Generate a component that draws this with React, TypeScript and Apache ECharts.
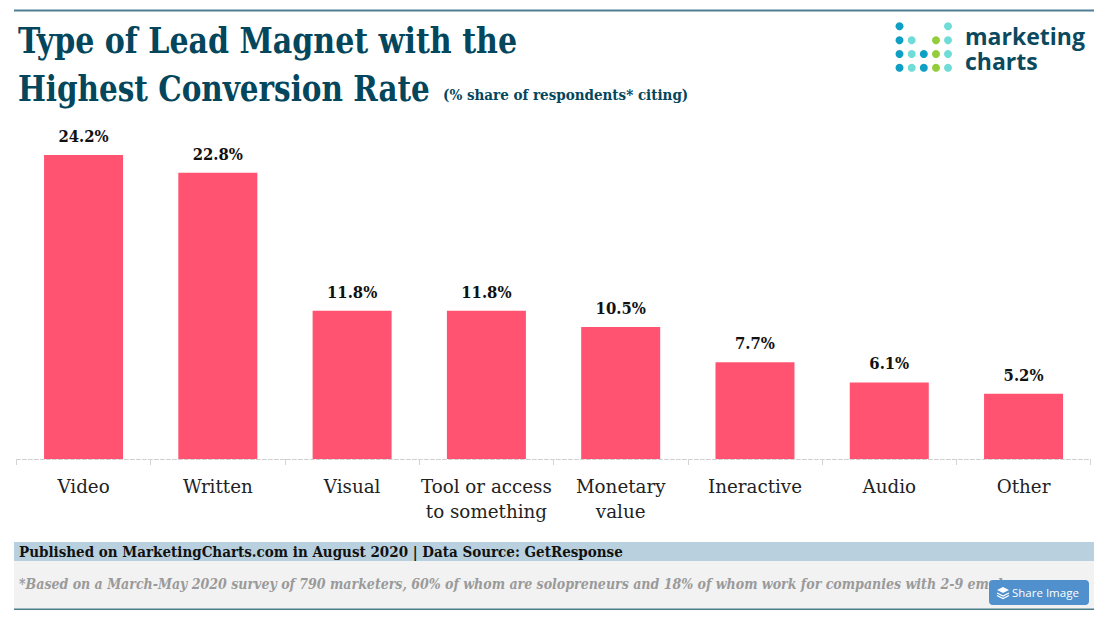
import React, { useEffect, useRef } from "react";
import * as echarts from "echarts";

const categories = ["Video", "Written", "Visual", "Tool or access\nto something", "Monetary\nvalue", "Ineractive", "Audio", "Other"];
const values = [24.2, 22.8, 11.8, 11.8, 10.5, 7.7, 6.1, 5.2];
const titleLines = ["Type of Lead Magnet with the", "Highest Conversion Rate"];
const subtitle = "(% share of respondents* citing)";
const sourceText = "Published on MarketingCharts.com in August 2020 | Data Source: GetResponse";
const noteText = "*Based on a March-May 2020 survey of 790 marketers, 60% of whom are solopreneurs and 18% of whom work for companies with 2-9 employees";

const SERIF = '"DejaVu Serif", serif';
const COND = '"DejaVu Serif Condensed", "DejaVu Serif", serif';
const NAVY = "#04465c";

const dotCols = [899.5, 911.7, 923.8, 936, 948];
const dotRows = [26.3, 40.3, 54, 67.7];
const dotMap: [number, number, string][] = [
  [0, 0, "#0e9fc4"], [0, 1, "#0e9fc4"], [0, 2, "#0e9fc4"], [0, 3, "#0e9fc4"],
  [1, 1, "#6fdcd8"], [1, 2, "#6fdcd8"], [1, 3, "#6fdcd8"],
  [2, 2, "#0e9fc4"], [2, 3, "#0e9fc4"],
  [3, 1, "#94cd3c"], [3, 2, "#94cd3c"], [3, 3, "#94cd3c"],
  [4, 0, "#6fdcd8"], [4, 1, "#6fdcd8"], [4, 2, "#6fdcd8"], [4, 3, "#6fdcd8"],
];

export default function App() {
  const ref = useRef<HTMLDivElement>(null);
  useEffect(() => {
    const chart = echarts.init(ref.current!, undefined, { renderer: "svg" });
    chart.setOption({
      animation: false,
      backgroundColor: "#ffffff",
      grid: { left: 16.4, right: 12.3, top: 145, bottom: 160 },
      xAxis: {
        type: "category",
        data: categories,
        axisLine: { lineStyle: { color: "#cfcfcf", type: "dashed", width: 1 } },
        axisTick: { show: true, length: 6, alignWithLabel: false, lineStyle: { color: "#d4d4d4" } },
        axisLabel: {
          interval: 0,
          margin: 15,
          color: "#222222",
          fontFamily: SERIF,
          fontSize: 18.3,
          lineHeight: 25,
          verticalAlign: "top",
        },
      },
      yAxis: { type: "value", min: 0, max: 25, show: false, splitLine: { show: false } },
      series: [
        {
          type: "bar",
          data: values,
          barWidth: 79,
          itemStyle: { color: "#ff5371" },
          label: {
            show: true,
            position: "top",
            distance: 10,
            formatter: (p: any) => p.value.toFixed(1) + "%",
            color: "#111111",
            fontFamily: COND,
            fontWeight: "bold",
            fontSize: 16.5,
          },
        },
      ],
      graphic: [
        { type: "rect", shape: { x: 14, y: 9.5, width: 1080, height: 2 }, style: { fill: "#4d7e92" } },
        { type: "text", x: 18, y: 23, scaleX: 0.955, style: { text: titleLines[0], fill: NAVY, font: `bold 35px ${COND}` } },
        { type: "text", x: 18, y: 71, scaleX: 0.936, style: { text: titleLines[1], fill: NAVY, font: `bold 35px ${COND}` } },
        { type: "text", x: 443, y: 87, style: { text: subtitle, fill: NAVY, font: `bold 15px ${COND}` } },
        ...dotMap.map(([c, r, color]) => ({
          type: "circle",
          shape: { cx: dotCols[c], cy: dotRows[r], r: 4 },
          style: { fill: color },
        })),
        { type: "text", x: 965, y: 24, style: { text: "marketing", fill: "#0b4a5e", font: 'bold 23px "Open Sans", sans-serif' } },
        { type: "text", x: 965, y: 49, style: { text: "charts", fill: "#0b4a5e", font: 'bold 23px "Open Sans", sans-serif' } },
        { type: "rect", shape: { x: 14, y: 542, width: 1080, height: 19 }, style: { fill: "#b9d0de" } },
        { type: "rect", shape: { x: 14, y: 561, width: 1080, height: 48 }, style: { fill: "#f2f2f2" } },
        { type: "rect", shape: { x: 14, y: 608.5, width: 1080, height: 1.5 }, style: { fill: "#4d7e8c" } },
        { type: "text", x: 19, y: 544, style: { text: sourceText, fill: "#111111", font: `bold 15px ${COND}` } },
        { type: "text", x: 19, y: 577, style: { text: noteText, fill: "#9a9a9a", font: `italic bold 14px ${COND}` } },
        { type: "rect", shape: { x: 989, y: 580, width: 100, height: 25, r: 4 }, style: { fill: "#4f90cd" } },
        { type: "polygon", shape: { points: [[1003, 587], [1009, 590], [1003, 593], [997, 590]] }, style: { fill: "#ffffff" } },
        { type: "polyline", shape: { points: [[997, 593], [1003, 596], [1009, 593]] }, style: { stroke: "#ffffff", lineWidth: 1.3, fill: "none" } },
        { type: "polyline", shape: { points: [[997, 595.5], [1003, 598.5], [1009, 595.5]] }, style: { stroke: "#ffffff", lineWidth: 1.3, fill: "none" } },
        { type: "text", x: 1012, y: 586, style: { text: "Share Image", fill: "#ffffff", font: '11.5px "Open Sans", sans-serif' } },
      ],
    });
    return () => chart.dispose();
  }, []);
  return <div ref={ref} style={{ position: "absolute", left: 0, top: 0, width: 1103, height: 619 }} />;
}
